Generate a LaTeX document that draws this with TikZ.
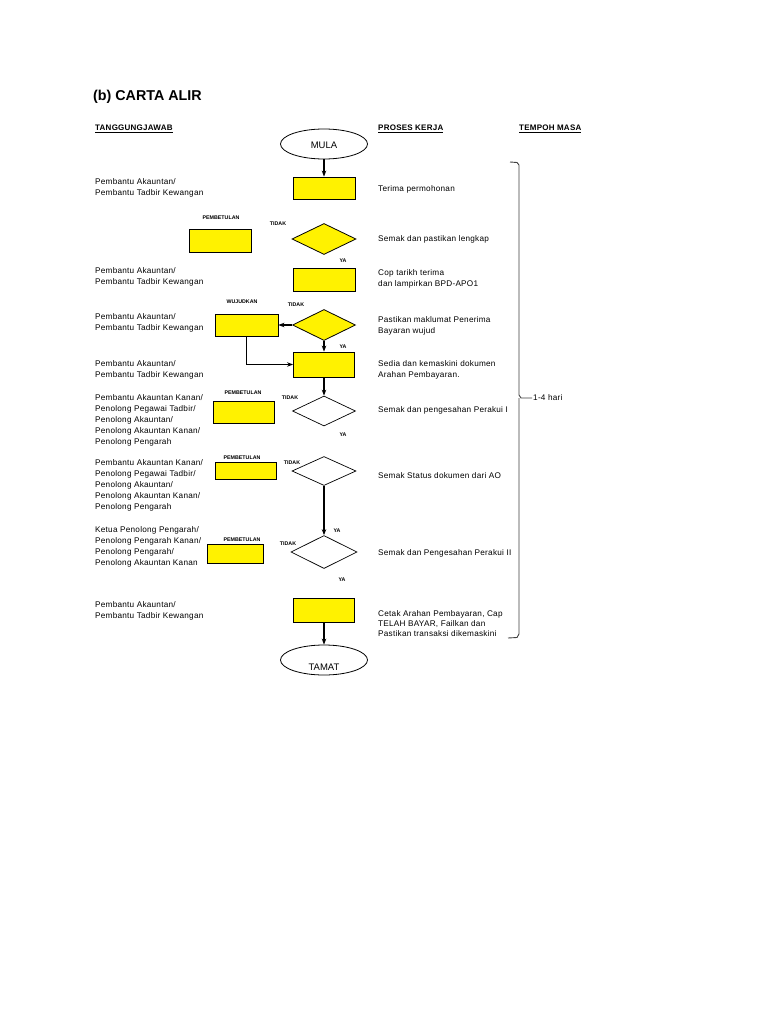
\documentclass[tikz,border=0pt]{standalone}
\usepackage{fontspec}
\setmainfont{Liberation Sans}
\newfontfamily\spaced[LetterSpace=3]{Liberation Sans}
\usetikzlibrary{shapes.geometric,arrows.meta}
\begin{document}
\begin{tikzpicture}[x=1pt,y=-1pt,
  ybox/.style={draw=black, line width=0.8pt, fill=yellow, inner sep=0pt},
  ydia/.style={diamond, draw=black, line width=0.8pt, fill=yellow, inner sep=0pt},
  wdia/.style={diamond, draw=black, line width=0.7pt, fill=white, inner sep=0pt},
  term/.style={ellipse, draw=black, line width=0.8pt, inner sep=0pt, minimum width=87pt, minimum height=30pt},
  termtxt/.style={inner sep=0pt, font=\fontsize{9.5}{11}\selectfont},
  arr/.style={-{Stealth[length=6pt,width=4.5pt]}, line width=1.5pt},
  txt/.style={anchor=west, align=left, inner sep=0pt, font=\spaced\fontsize{8.2}{11}\selectfont},
  hdr/.style={anchor=west, inner sep=0pt, font=\spaced\fontsize{8}{9}\selectfont\bfseries},
  tiny/.style={inner sep=0pt, font=\fontsize{5.3}{6}\selectfont\bfseries},
  brk/.style={draw=black!75, line width=0.9pt}
]
\useasboundingbox (0,0) rectangle (768,1024);
\fill[white] (0,0) rectangle (768,1024);

% title and headers
\node[anchor=west, inner sep=0pt, font=\fontsize{14.3}{16}\selectfont\bfseries] (title) at (93,97) {(b) CARTA ALIR};
\node[hdr] (h1) at (95,129) {\underline{TANGGUNGJAWAB}};
\node[hdr] (h2) at (378,129) {\underline{PROSES KERJA}};
\node[hdr] (h3) at (519,129) {\underline{TEMPOH MASA}};

% main column
\node[term] (mula) at (324,144) {};
\node[termtxt] (mulatxt) at (324,145) {MULA};
\node[ybox, minimum width=62pt, minimum height=22pt] (b1) at (324,188) {};
\node[ydia, minimum width=64pt, minimum height=31pt] (d1) at (324,239) {};
\node[ybox, minimum width=62pt, minimum height=23pt] (b2) at (324,279.5) {};
\node[ydia, minimum width=63pt, minimum height=31pt] (d2) at (324,325) {};
\node[ybox, minimum width=61pt, minimum height=25pt] (b3) at (324,364.5) {};
\node[wdia, minimum width=63pt, minimum height=30pt] (d3) at (324,411) {};
\node[wdia, minimum width=64pt, minimum height=29pt] (d4) at (324,471) {};
\node[wdia, minimum width=66pt, minimum height=33pt] (d5) at (324,552) {};
\node[ybox, minimum width=61pt, minimum height=24pt] (b4) at (324,610) {};
\node[term] (tamat) at (324,660) {};
\node[termtxt] (tamattxt) at (324,667.5) {TAMAT};

% side boxes
\node[ybox, minimum width=62pt, minimum height=23pt] (p1) at (220,240.5) {};
\node[ybox, minimum width=63pt, minimum height=22pt] (wuj) at (246.5,325) {};
\node[ybox, minimum width=61pt, minimum height=22pt] (p2) at (243.5,412) {};
\node[ybox, minimum width=61pt, minimum height=17pt] (p3) at (245.5,470.5) {};
\node[ybox, minimum width=56pt, minimum height=19pt] (p4) at (235,553.5) {};

% connectors
\draw[arr] (mula.south) -- (b1.north);
\draw[arr] (d2.west) -- (wuj.east);
\draw[arr] (d2.south) -- (b3.north);
\draw[arr] (wuj.south) |- (b3.west);
\draw[arr] (b3.south) -- (d3.north);
\draw[arr] (d4.south) -- (d5.north);
\draw[arr] (b4.south) -- (tamat.north);

% small labels
\node[tiny] (lp1) at (221,218) {PEMBETULAN};
\node[tiny] (lp2) at (243,393) {PEMBETULAN};
\node[tiny] (lp3) at (242,458) {PEMBETULAN};
\node[tiny] (lp4) at (242,540) {PEMBETULAN};
\node[tiny] (lw) at (242,302) {WUJUDKAN};
\node[tiny] (t1) at (278,224) {TIDAK};
\node[tiny] (t2) at (296,305) {TIDAK};
\node[tiny] (t3) at (290,398) {TIDAK};
\node[tiny] (t4) at (292,463) {TIDAK};
\node[tiny] (t5) at (288,544) {TIDAK};
\node[tiny] (y1) at (343,261) {YA};
\node[tiny] (y2) at (343,347) {YA};
\node[tiny] (y3) at (343,435) {YA};
\node[tiny] (y4) at (337,531) {YA};
\node[tiny] (y5) at (342,580) {YA};

% responsibility column
\node[txt] (r1) at (95,187.5) {Pembantu Akauntan/\\Pembantu Tadbir Kewangan};
\node[txt] (r2) at (95,276.5) {Pembantu Akauntan/\\Pembantu Tadbir Kewangan};
\node[txt] (r3) at (95,322.5) {Pembantu Akauntan/\\Pembantu Tadbir Kewangan};
\node[txt] (r4) at (95,369.5) {Pembantu Akauntan/\\Pembantu Tadbir Kewangan};
\node[txt] (r5) at (95,420) {Pembantu Akauntan Kanan/\\Penolong Pegawai Tadbir/\\Penolong Akauntan/\\Penolong Akauntan Kanan/\\Penolong Pengarah};
\node[txt] (r6) at (95,485) {Pembantu Akauntan Kanan/\\Penolong Pegawai Tadbir/\\Penolong Akauntan/\\Penolong Akauntan Kanan/\\Penolong Pengarah};
\node[txt] (r7) at (95,546.5) {Ketua Penolong Pengarah/\\Penolong Pengarah Kanan/\\Penolong Pengarah/\\Penolong Akauntan Kanan};
\node[txt] (r8) at (95,611) {Pembantu Akauntan/\\Pembantu Tadbir Kewangan};

% process column
\node[txt] (k1) at (378,189) {Terima permohonan};
\node[txt] (k2) at (378,239) {Semak dan pastikan lengkap};
\node[txt] (k3) at (378,278.5) {Cop tarikh terima\\dan lampirkan BPD-APO1};
\node[txt] (k4) at (378,325.5) {Pastikan maklumat Penerima\\Bayaran wujud};
\node[txt] (k5) at (378,369.5) {Sedia dan kemaskini dokumen\\Arahan Pembayaran.};
\node[txt] (k6) at (378,410) {Semak dan pengesahan Perakui I};
\node[txt] (k7) at (378,476) {Semak Status dokumen dari AO};
\node[txt] (k8) at (378,553) {Semak dan Pengesahan Perakui II};
\node[txt, font=\spaced\fontsize{8.2}{10}\selectfont] (k9) at (378,624) {Cetak Arahan Pembayaran, Cap\\TELAH BAYAR, Failkan dan\\Pastikan transaksi dikemaskini};

% time bracket
\coordinate (bt) at (510,162);
\coordinate (bm) at (532,398);
\coordinate (bb) at (508,638);
\node[txt] (hari) at (533,398) {1-4 hari};
\draw[brk] (bt) -- (517,162.5) -- (519,165) -- (519,395) -- (521,398) -- (bm);
\draw[brk] (519,398) -- (519,634) -- (517,637.5) -- (bb);
\end{tikzpicture}
\end{document}
